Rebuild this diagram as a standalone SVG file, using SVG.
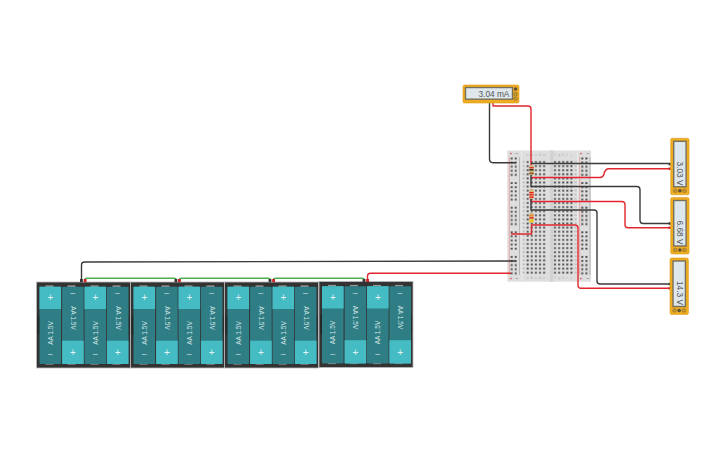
<svg xmlns="http://www.w3.org/2000/svg" xmlns:xlink="http://www.w3.org/1999/xlink" width="725" height="453" viewBox="0 0 725 453">
<style>
text{font-family:"Liberation Sans",Arial,sans-serif}
.wb,.wr,.wg{fill:none;stroke-width:1.4;stroke-linejoin:round}
.wb{stroke:#3a3a3a}.wr{stroke:#e1262d}.wg{stroke:#4caf50}
.case{fill:#333;stroke:#bbb;stroke-width:.8}
.cell{fill:#2f7d85}.hi{fill:#45bcc4}
.bt{fill:#d5e6e6;font-size:6.5px;text-anchor:middle}
.sg{fill:#e4f4f4;font-size:10px;text-anchor:middle}
.sgd{fill:#b9d2d4;font-size:10px;text-anchor:middle}
.cap{fill:#999}
.notch{fill:#262626}
.mbody{fill:#f0ac20;stroke:#dba01c;stroke-width:.6}
.scr{fill:#dde7ec;stroke:#77705c;stroke-width:1.4}
.mt{fill:#555;font-size:8.3px}
.knob{fill:#c9972a;stroke:#7a6a3a;stroke-width:.6}
.rb{fill:#d3b27c}
.lab{fill:#b5b5b5;font-size:4px;text-anchor:middle}
.pin{fill:#333}.pinr{fill:#c22}
</style>
<defs>
<pattern id="h1" x="0" y="160" width="4.1" height="4.1" patternUnits="userSpaceOnUse"><rect x="1.05" y="1.05" width="1.9" height="1.9" fill="#484848"/></pattern>
<pattern id="h2" x="0" y="156.5" width="4.1" height="24.6" patternUnits="userSpaceOnUse"><rect x="1.05" y="1.05" width="1.9" height="1.9" fill="#484848"/><rect x="1.05" y="5.15" width="1.9" height="1.9" fill="#484848"/><rect x="1.05" y="9.25" width="1.9" height="1.9" fill="#484848"/><rect x="1.05" y="13.35" width="1.9" height="1.9" fill="#484848"/><rect x="1.05" y="17.45" width="1.9" height="1.9" fill="#484848"/></pattern>
<pattern id="h3" x="0" y="160" width="4.1" height="4.1" patternUnits="userSpaceOnUse"><rect x="1" y="1.2" width="2" height="1.4" fill="#b5b5b5"/></pattern>
<g id="pack">
<rect class="case" x="0" y="0" width="94" height="86"/>
<rect class="notch" x="1" y="33" width="4" height="20" rx="2"/>
<rect class="notch" x="89" y="33" width="4" height="20" rx="2"/>
<rect class="cap" x="9" y="3.4" width="8" height="1.6"/><rect class="cap" x="31" y="81" width="8" height="1.6"/><rect class="cap" x="54" y="3.4" width="8" height="1.6"/><rect class="cap" x="76" y="81" width="8" height="1.6"/>
<rect class="cap" x="9" y="81" width="8" height="1.6"/><rect class="cap" x="31" y="3.4" width="8" height="1.6"/><rect class="cap" x="54" y="81" width="8" height="1.6"/><rect class="cap" x="76" y="3.4" width="8" height="1.6"/>
<rect class="cell" x="3" y="4.7" width="21.6" height="77.3" rx="1"/><rect class="hi" x="3" y="4.7" width="21.6" height="22.3"/>
<rect class="cell" x="25.6" y="4.7" width="21.6" height="77.3" rx="1"/><rect class="hi" x="25.6" y="58.7" width="21.6" height="23.3"/>
<rect class="cell" x="48" y="4.7" width="21.6" height="77.3" rx="1"/><rect class="hi" x="48" y="4.7" width="21.6" height="22.3"/>
<rect class="cell" x="70.4" y="4.7" width="21.6" height="77.3" rx="1"/><rect class="hi" x="70.4" y="58.7" width="21.6" height="23.3"/>
<text class="sg" x="13.8" y="19">+</text><text class="sgd" x="13.8" y="76">−</text>
<text class="sgd" x="36.4" y="15">−</text><text class="sg" x="36.4" y="74">+</text>
<text class="sg" x="58.8" y="19">+</text><text class="sgd" x="58.8" y="76">−</text>
<text class="sgd" x="81.2" y="15">−</text><text class="sg" x="81.2" y="74">+</text>
<text class="bt" transform="translate(16,51) rotate(-90)">AA 1.5V</text>
<text class="bt" transform="translate(34.2,36) rotate(90)">AA 1.5V</text>
<text class="bt" transform="translate(61,51) rotate(-90)">AA 1.5V</text>
<text class="bt" transform="translate(79,36) rotate(90)">AA 1.5V</text>
</g>
<g id="vmeter">
<rect class="mbody" x="0" y="0" width="18.4" height="56.5" rx="1.5"/>
<rect class="scr" x="3" y="3" width="12.4" height="45.5"/>
<circle class="knob" cx="4.6" cy="52.5" r="1.8"/><circle cx="9.2" cy="52.5" r="1.8" fill="#5a5038"/><circle class="knob" cx="13.8" cy="52.5" r="1.8"/>
</g>
</defs>

<g id="breadboard">
<rect x="507.3" y="150.5" width="83.7" height="131.2" fill="#dedede"/>
<rect x="521" y="150.5" width="1.2" height="131.2" fill="#e9e9e9"/>
<rect x="550" y="150.5" width="3.5" height="131.2" fill="#d2d2d2"/>
<rect x="577" y="150.5" width="1.2" height="131.2" fill="#e9e9e9"/>
<rect x="508.8" y="157" width="1" height="118" fill="#e6a8a8"/><rect x="519" y="157" width="1" height="118" fill="#b5b5b5"/>
<rect x="579.2" y="157" width="1" height="118" fill="#e6a8a8"/><rect x="589.4" y="157" width="1" height="118" fill="#b5b5b5"/>
<rect transform="translate(509.7,0)" x="0" y="156.5" width="8.2" height="119" fill="url(#h2)"/>
<rect transform="translate(580.3,0)" x="0" y="156.5" width="8.2" height="119" fill="url(#h2)"/>
<rect transform="translate(525.7,0)" x="0" y="160" width="20.5" height="115" fill="url(#h1)"/>
<rect transform="translate(553,0)" x="0" y="160" width="20.5" height="115" fill="url(#h1)"/>
<rect transform="translate(521.5,0)" x="0" y="160" width="4.1" height="115" fill="url(#h3)"/>
<rect transform="translate(573.7,0)" x="0" y="160" width="4.1" height="115" fill="url(#h3)"/>
<g class="lab">
<text x="527.7" y="156">a</text><text x="531.8" y="156">b</text><text x="535.9" y="156">c</text><text x="540" y="156">d</text><text x="544" y="156">e</text>
<text x="555" y="156">f</text><text x="559.1" y="156">g</text><text x="563.2" y="156">h</text><text x="567.3" y="156">i</text><text x="571.4" y="156">j</text>
<text x="527.7" y="279">a</text><text x="531.8" y="279">b</text><text x="535.9" y="279">c</text><text x="540" y="279">d</text><text x="544" y="279">e</text>
<text x="555" y="279">f</text><text x="559.1" y="279">g</text><text x="563.2" y="279">h</text><text x="567.3" y="279">i</text><text x="571.4" y="279">j</text>
</g>
<g font-size="5" text-anchor="middle">
<text x="511" y="155" fill="#d44">+</text><text x="517" y="155" fill="#444">−</text><text x="581" y="155" fill="#d44">+</text><text x="588" y="155" fill="#444">−</text>
<text x="511" y="280" fill="#d44">+</text><text x="517" y="280" fill="#444">−</text><text x="581" y="280" fill="#d44">+</text><text x="588" y="280" fill="#444">−</text>
</g>
</g>

<g id="pack1"><use href="#pack" xlink:href="#pack" x="36.5" y="282"/></g>
<g id="pack2"><use href="#pack" xlink:href="#pack" x="130.5" y="282"/></g>
<g id="pack3"><use href="#pack" xlink:href="#pack" x="224.5" y="282"/></g>
<g id="pack4"><use href="#pack" xlink:href="#pack" x="319" y="281.5"/></g>

<g id="connectors">
<path class="wb" d="M489.5 103V159Q489.5 162.7 493 162.7H516"/>
<path class="wr" d="M493 103V106H528Q531 106 531 109V166"/>
<path class="wb" d="M531 163.5H670"/>
<path class="wr" d="M531 177.5H600Q603 177.5 604 174Q605 168.7 609 168.7H670"/>
<path class="wb" d="M531 175V186.5H637Q640 186.5 640 190V220Q640 223.5 643 223.5H670"/>
<path class="wr" d="M531 199V201.5H622Q625 201.5 625 205V224.5Q625 227.7 628 227.7H670"/>
<path class="wb" d="M531 199V210H594Q597 210 597 213V281Q597 284 600 284H670"/>
<path class="wr" d="M511 234H531.5V225H575Q578 225 578 228V285Q578 288.3 581 288.3H670"/>
<path class="wb" d="M81.5 282V265Q81.5 262 84.5 262L516 261"/>
<path class="wr" d="M367.5 282V276Q367.5 273.2 370.5 273.2H511"/>
<path class="wg" d="M85 282V280Q85 278.3 87 278.3H174Q176 278.3 176 280V282"/>
<path class="wg" d="M179.5 282V280Q179.5 278.3 181.5 278.3H268Q270 278.3 270 280V282"/>
<path class="wg" d="M273.5 282V280Q273.5 278.3 275.5 278.3H362Q364 278.3 364 280V282"/>
<rect class="pin" x="80" y="279" width="2.8" height="3"/><rect class="pinr" x="83.7" y="279" width="2.8" height="3"/>
<rect class="pin" x="174.5" y="279" width="2.8" height="3"/><rect class="pinr" x="178" y="279" width="2.8" height="3"/>
<rect class="pin" x="268.6" y="279" width="2.8" height="3"/><rect class="pinr" x="272.2" y="279" width="2.8" height="3"/>
<rect class="pin" x="362.6" y="279" width="2.8" height="3"/><rect class="pinr" x="366.2" y="279" width="2.8" height="3"/>
<rect class="pin" x="668.6" y="163" width="2.2" height="2.4"/><rect class="pinr" x="668.6" y="167.5" width="2.2" height="2.4"/>
<rect class="pin" x="668.6" y="222.3" width="2.2" height="2.4"/><rect class="pinr" x="668.6" y="226.5" width="2.2" height="2.4"/>
<rect class="pin" x="668.6" y="282.8" width="2.2" height="2.4"/><rect class="pinr" x="668.6" y="287.1" width="2.2" height="2.4"/>
</g>

<g id="r1"><rect class="rb" x="529.3" y="165" width="4.4" height="10" rx="1.2"/><rect x="529.3" y="167" width="4.4" height="1.3" fill="#d33"/><rect x="529.3" y="169.2" width="4.4" height="1.3" fill="#222"/><rect x="529.3" y="172.6" width="4.4" height="1.6" fill="#8a5a2a"/></g>
<g id="r2"><rect class="rb" x="529.3" y="189" width="4.4" height="10" rx="1.2"/><rect x="529.3" y="192" width="4.4" height="1.3" fill="#e22"/><rect x="529.3" y="194.2" width="4.4" height="1.3" fill="#e22"/><rect x="529.3" y="196.6" width="4.4" height="1.3" fill="#e22"/></g>
<g id="r3"><rect class="rb" x="529.3" y="213" width="4.4" height="10" rx="1.2"/><rect x="529.3" y="215" width="4.4" height="1.3" fill="#e83"/><rect x="529.3" y="217.2" width="4.4" height="1.3" fill="#d22"/><rect x="529.3" y="219.6" width="4.4" height="2.4" fill="#e8d020"/></g>

<g id="ammeter">
<rect class="mbody" x="463" y="85" width="56" height="18" rx="1.5"/>
<rect class="scr" x="465.5" y="87.5" width="47" height="11.7"/>
<circle cx="515.6" cy="89" r="1.8" fill="#5a5038"/><circle class="knob" cx="515.6" cy="94" r="1.8"/><circle class="knob" cx="515.6" cy="98.6" r="1.8"/>
<text class="mt" x="478.5" y="96.5">3.04 mA</text>
</g>
<g id="v1"><use href="#vmeter" xlink:href="#vmeter" x="670.7" y="138.3"/><text class="mt" transform="translate(677.2,161.5) rotate(90)">3.03 V</text></g>
<g id="v2"><use href="#vmeter" xlink:href="#vmeter" x="670.7" y="197.5"/><text class="mt" transform="translate(677.2,220.5) rotate(90)">6.68 V</text></g>
<g id="v3"><use href="#vmeter" xlink:href="#vmeter" x="670" y="258"/><text class="mt" transform="translate(676.7,281) rotate(90)">14.3 V</text></g>
</svg>
